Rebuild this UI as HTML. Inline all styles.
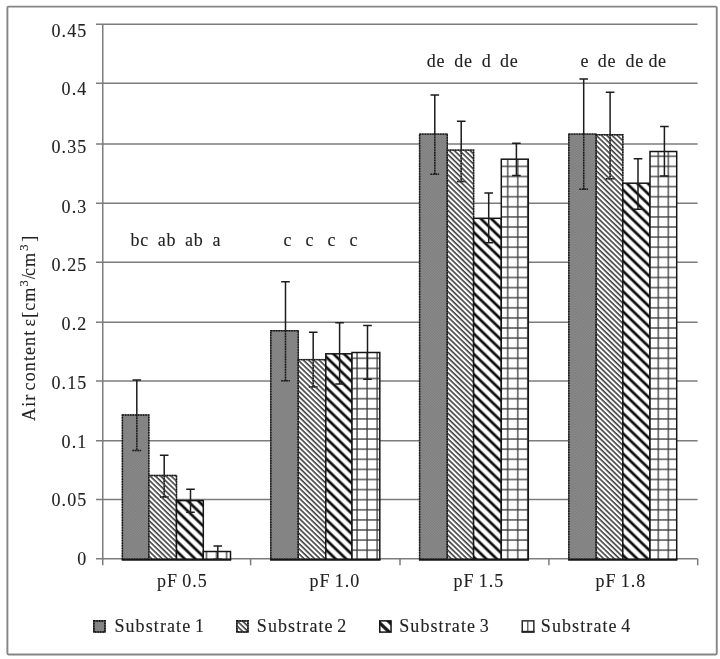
<!DOCTYPE html>
<html><head><meta charset="utf-8"><title>Air content chart</title>
<style>
html,body{margin:0;padding:0;background:#fff;}
body{width:720px;height:659px;overflow:hidden;}
svg{display:block;will-change:transform;filter:grayscale(1);}
text{font-family:"Liberation Serif",serif;font-size:18px;fill:#222;letter-spacing:0.7px;stroke:#222;stroke-width:0.12px;}
</style></head><body>
<svg width="720" height="659" viewBox="0 0 720 659">
<defs>
<pattern id="p1" patternUnits="userSpaceOnUse" width="2.56" height="2.56">
<rect width="2.56" height="2.56" fill="#909090"/>
<rect x="0" y="0" width="1.28" height="1.28" fill="#787878"/>
<rect x="1.28" y="1.28" width="1.28" height="1.28" fill="#787878"/>
</pattern>
<pattern id="p2" patternUnits="userSpaceOnUse" width="10" height="3.651" patternTransform="rotate(44.0)">
<rect width="10" height="3.651" fill="#fff"/>
<rect x="0" y="0" width="10" height="1.6" fill="#404040"/>
</pattern>
<pattern id="p3g0" patternUnits="userSpaceOnUse" width="10" height="7.301" patternTransform="translate(176.4,520.4) rotate(44.0)">
<rect width="10" height="7.301" fill="#fff"/>
<rect x="0" y="0" width="10" height="1.35" fill="#0c0c0c"/>
<rect x="0" y="5.951" width="10" height="1.36" fill="#0c0c0c"/>
</pattern>
<pattern id="p3g1" patternUnits="userSpaceOnUse" width="10" height="7.301" patternTransform="translate(326.1,519.3) rotate(44.0)">
<rect width="10" height="7.301" fill="#fff"/>
<rect x="0" y="0" width="10" height="1.35" fill="#0c0c0c"/>
<rect x="0" y="5.951" width="10" height="1.36" fill="#0c0c0c"/>
</pattern>
<pattern id="p3g2" patternUnits="userSpaceOnUse" width="10" height="7.301" patternTransform="translate(473.6,526.4) rotate(44.0)">
<rect width="10" height="7.301" fill="#fff"/>
<rect x="0" y="0" width="10" height="1.35" fill="#0c0c0c"/>
<rect x="0" y="5.951" width="10" height="1.36" fill="#0c0c0c"/>
</pattern>
<pattern id="p3g3" patternUnits="userSpaceOnUse" width="10" height="7.301" patternTransform="translate(623.1,524.9) rotate(44.0)">
<rect width="10" height="7.301" fill="#fff"/>
<rect x="0" y="0" width="10" height="1.35" fill="#0c0c0c"/>
<rect x="0" y="5.951" width="10" height="1.36" fill="#0c0c0c"/>
</pattern>
<pattern id="p3" patternUnits="userSpaceOnUse" width="10" height="7.301" patternTransform="translate(379.7,622.9) rotate(44.0)">
<rect width="10" height="7.301" fill="#fff"/>
<rect x="0" y="0" width="10" height="1.6" fill="#111"/>
<rect x="0" y="5.701" width="10" height="1.61" fill="#111"/>
</pattern>
<pattern id="p4" patternUnits="userSpaceOnUse" width="10.04" height="10.1" x="5.7" y="4.8">
<rect width="10.04" height="10.1" fill="#fff"/>
<rect x="-0.65" y="0" width="1.3" height="10.1" fill="#3a3a3a"/>
<rect x="9.39" y="0" width="1.3" height="10.1" fill="#3a3a3a"/>
<rect x="0" y="-0.65" width="10.04" height="1.3" fill="#3a3a3a"/>
<rect x="0" y="9.45" width="10.04" height="1.3" fill="#3a3a3a"/>
</pattern>
</defs>
<rect x="0" y="0" width="720" height="659" fill="#fff"/>
<rect x="7.4" y="6.65" width="709.35" height="647.85" rx="1.2" fill="none" stroke="#858585" stroke-width="1.9"/>

<line x1="96" y1="558.7" x2="697.6" y2="558.7" stroke="#7c7c7c" stroke-width="1.5"/>
<line x1="96" y1="499.6" x2="697.6" y2="499.6" stroke="#7c7c7c" stroke-width="1.5"/>
<line x1="96" y1="440.7" x2="697.6" y2="440.7" stroke="#7c7c7c" stroke-width="1.5"/>
<line x1="96" y1="381.0" x2="697.6" y2="381.0" stroke="#7c7c7c" stroke-width="1.5"/>
<line x1="96" y1="322.3" x2="697.6" y2="322.3" stroke="#7c7c7c" stroke-width="1.5"/>
<line x1="96" y1="262.2" x2="697.6" y2="262.2" stroke="#7c7c7c" stroke-width="1.5"/>
<line x1="96" y1="203.3" x2="697.6" y2="203.3" stroke="#7c7c7c" stroke-width="1.5"/>
<line x1="96" y1="144.0" x2="697.6" y2="144.0" stroke="#7c7c7c" stroke-width="1.5"/>
<line x1="96" y1="83.3" x2="697.6" y2="83.3" stroke="#7c7c7c" stroke-width="1.5"/>
<line x1="96" y1="24.2" x2="697.6" y2="24.2" stroke="#7c7c7c" stroke-width="1.5"/>
<line x1="102.75" y1="24.2" x2="102.75" y2="565.3" stroke="#7c7c7c" stroke-width="1.5"/>
<line x1="250.6" y1="558.7" x2="250.6" y2="565.3" stroke="#7c7c7c" stroke-width="1.5"/>
<line x1="400.0" y1="558.7" x2="400.0" y2="565.3" stroke="#7c7c7c" stroke-width="1.5"/>
<line x1="548.9" y1="558.7" x2="548.9" y2="565.3" stroke="#7c7c7c" stroke-width="1.5"/>
<line x1="697.7" y1="558.7" x2="697.7" y2="565.3" stroke="#7c7c7c" stroke-width="1.5"/>
<rect x="122.40" y="415" width="26.40" height="144.30" fill="url(#p1)" stroke="#4c4c4c" stroke-width="1.4"/>
<rect x="122.40" y="415" width="26.40" height="144.30" fill="none" stroke="#151515" stroke-width="1.4" stroke-dasharray="1.4 1.16"/>
<rect x="148.80" y="475.5" width="27.70" height="83.80" fill="url(#p2)" stroke="#4c4c4c" stroke-width="1.4"/>
<rect x="148.80" y="475.5" width="27.70" height="83.80" fill="none" stroke="#151515" stroke-width="1.4" stroke-dasharray="1.4 1.16"/>
<rect x="176.50" y="500.6" width="26.80" height="58.70" fill="url(#p3g0)" stroke="#151515" stroke-width="1.5"/>
<rect x="203.30" y="551.5" width="27.20" height="7.80" fill="url(#p4)" stroke="#151515" stroke-width="1.5"/>
<line x1="121.70" y1="559.75" x2="231.20" y2="559.75" stroke="#151515" stroke-width="1.9"/>
<rect x="270.80" y="330.7" width="27.50" height="228.60" fill="url(#p1)" stroke="#4c4c4c" stroke-width="1.4"/>
<rect x="270.80" y="330.7" width="27.50" height="228.60" fill="none" stroke="#151515" stroke-width="1.4" stroke-dasharray="1.4 1.16"/>
<rect x="298.30" y="359.6" width="27.50" height="199.70" fill="url(#p2)" stroke="#4c4c4c" stroke-width="1.4"/>
<rect x="298.30" y="359.6" width="27.50" height="199.70" fill="none" stroke="#151515" stroke-width="1.4" stroke-dasharray="1.4 1.16"/>
<rect x="325.80" y="353.8" width="26.20" height="205.50" fill="url(#p3g1)" stroke="#151515" stroke-width="1.5"/>
<rect x="352.00" y="352.5" width="27.80" height="206.80" fill="url(#p4)" stroke="#151515" stroke-width="1.5"/>
<line x1="270.10" y1="559.75" x2="380.50" y2="559.75" stroke="#151515" stroke-width="1.9"/>
<rect x="419.60" y="134.1" width="27.70" height="425.20" fill="url(#p1)" stroke="#4c4c4c" stroke-width="1.4"/>
<rect x="419.60" y="134.1" width="27.70" height="425.20" fill="none" stroke="#151515" stroke-width="1.4" stroke-dasharray="1.4 1.16"/>
<rect x="447.30" y="150.1" width="26.30" height="409.20" fill="url(#p2)" stroke="#4c4c4c" stroke-width="1.4"/>
<rect x="447.30" y="150.1" width="26.30" height="409.20" fill="none" stroke="#151515" stroke-width="1.4" stroke-dasharray="1.4 1.16"/>
<rect x="473.60" y="218.3" width="27.70" height="341.00" fill="url(#p3g2)" stroke="#151515" stroke-width="1.5"/>
<rect x="501.30" y="159.2" width="27.00" height="400.10" fill="url(#p4)" stroke="#151515" stroke-width="1.5"/>
<line x1="418.90" y1="559.75" x2="529.00" y2="559.75" stroke="#151515" stroke-width="1.9"/>
<rect x="568.80" y="134.1" width="27.40" height="425.20" fill="url(#p1)" stroke="#4c4c4c" stroke-width="1.4"/>
<rect x="568.80" y="134.1" width="27.40" height="425.20" fill="none" stroke="#151515" stroke-width="1.4" stroke-dasharray="1.4 1.16"/>
<rect x="596.20" y="134.7" width="26.60" height="424.60" fill="url(#p2)" stroke="#4c4c4c" stroke-width="1.4"/>
<rect x="596.20" y="134.7" width="26.60" height="424.60" fill="none" stroke="#151515" stroke-width="1.4" stroke-dasharray="1.4 1.16"/>
<rect x="622.80" y="183.2" width="27.20" height="376.10" fill="url(#p3g3)" stroke="#151515" stroke-width="1.5"/>
<rect x="650.00" y="151.5" width="26.70" height="407.80" fill="url(#p4)" stroke="#151515" stroke-width="1.5"/>
<line x1="568.10" y1="559.75" x2="677.40" y2="559.75" stroke="#151515" stroke-width="1.9"/>
<path d="M136.8 380V415M132.5 380H141.1" fill="none" stroke="#1c1c1c" stroke-width="1.5"/>
<path d="M136.8 415V450.5M132.5 450.5H141.1" fill="none" stroke="#555" stroke-width="1.5"/>
<path d="M136.8 415V450.5M132.5 450.5H141.1" fill="none" stroke="#151515" stroke-width="1.4" stroke-dasharray="1.4 1.16"/>
<path d="M164.2 455.3V475.5M159.9 455.3H168.5" fill="none" stroke="#1c1c1c" stroke-width="1.5"/>
<path d="M164.2 475.5V497M159.9 497H168.5" fill="none" stroke="#555" stroke-width="1.5"/>
<path d="M164.2 475.5V497M159.9 497H168.5" fill="none" stroke="#151515" stroke-width="1.4" stroke-dasharray="1.4 1.16"/>
<path d="M190.5 489.2V512.3M186.2 489.2H194.8M186.2 512.3H194.8" fill="none" stroke="#1c1c1c" stroke-width="1.5"/>
<path d="M217.8 546V559.2M213.5 546H222.1M213.5 559.2H222.1" fill="none" stroke="#1c1c1c" stroke-width="1.5"/>
<path d="M285.5 281.8V330.7M281.2 281.8H289.8" fill="none" stroke="#1c1c1c" stroke-width="1.5"/>
<path d="M285.5 330.7V380.7M281.2 380.7H289.8" fill="none" stroke="#555" stroke-width="1.5"/>
<path d="M285.5 330.7V380.7M281.2 380.7H289.8" fill="none" stroke="#151515" stroke-width="1.4" stroke-dasharray="1.4 1.16"/>
<path d="M313.2 332.3V359.6M308.9 332.3H317.5" fill="none" stroke="#1c1c1c" stroke-width="1.5"/>
<path d="M313.2 359.6V386.9M308.9 386.9H317.5" fill="none" stroke="#555" stroke-width="1.5"/>
<path d="M313.2 359.6V386.9M308.9 386.9H317.5" fill="none" stroke="#151515" stroke-width="1.4" stroke-dasharray="1.4 1.16"/>
<path d="M339.6 322.8V384M335.3 322.8H343.9M335.3 384H343.9" fill="none" stroke="#1c1c1c" stroke-width="1.5"/>
<path d="M367.5 325.6V379.3M363.2 325.6H371.8M363.2 379.3H371.8" fill="none" stroke="#1c1c1c" stroke-width="1.5"/>
<path d="M434.8 94.9V134.1M430.5 94.9H439.1" fill="none" stroke="#1c1c1c" stroke-width="1.5"/>
<path d="M434.8 134.1V174.2M430.5 174.2H439.1" fill="none" stroke="#555" stroke-width="1.5"/>
<path d="M434.8 134.1V174.2M430.5 174.2H439.1" fill="none" stroke="#151515" stroke-width="1.4" stroke-dasharray="1.4 1.16"/>
<path d="M461.2 121.3V150.1M456.9 121.3H465.5" fill="none" stroke="#1c1c1c" stroke-width="1.5"/>
<path d="M461.2 150.1V181.6M456.9 181.6H465.5" fill="none" stroke="#555" stroke-width="1.5"/>
<path d="M461.2 150.1V181.6M456.9 181.6H465.5" fill="none" stroke="#151515" stroke-width="1.4" stroke-dasharray="1.4 1.16"/>
<path d="M488.7 193V242.8M484.4 193H493.0M484.4 242.8H493.0" fill="none" stroke="#1c1c1c" stroke-width="1.5"/>
<path d="M516.4 143.2V175.6M512.1 143.2H520.7M512.1 175.6H520.7" fill="none" stroke="#1c1c1c" stroke-width="1.5"/>
<path d="M583.7 79.1V134.1M579.4 79.1H588.0" fill="none" stroke="#1c1c1c" stroke-width="1.5"/>
<path d="M583.7 134.1V189.2M579.4 189.2H588.0" fill="none" stroke="#555" stroke-width="1.5"/>
<path d="M583.7 134.1V189.2M579.4 189.2H588.0" fill="none" stroke="#151515" stroke-width="1.4" stroke-dasharray="1.4 1.16"/>
<path d="M610.1 92.2V134.7M605.8 92.2H614.4" fill="none" stroke="#1c1c1c" stroke-width="1.5"/>
<path d="M610.1 134.7V178.8M605.8 178.8H614.4" fill="none" stroke="#555" stroke-width="1.5"/>
<path d="M610.1 134.7V178.8M605.8 178.8H614.4" fill="none" stroke="#151515" stroke-width="1.4" stroke-dasharray="1.4 1.16"/>
<path d="M638 158.8V209.2M633.7 158.8H642.3M633.7 209.2H642.3" fill="none" stroke="#1c1c1c" stroke-width="1.5"/>
<path d="M664.4 126.5V175.9M660.1 126.5H668.7M660.1 175.9H668.7" fill="none" stroke="#1c1c1c" stroke-width="1.5"/>
<g id="txt">
<text x="87.5" y="565.0" text-anchor="end" style="letter-spacing:1.15px">0</text>
<text x="87.5" y="506.2" text-anchor="end" style="letter-spacing:1.15px">0.05</text>
<text x="87.5" y="447.5" text-anchor="end" style="letter-spacing:1.15px">0.1</text>
<text x="87.5" y="388.6" text-anchor="end" style="letter-spacing:1.15px">0.15</text>
<text x="87.5" y="330.0" text-anchor="end" style="letter-spacing:1.15px">0.2</text>
<text x="87.5" y="271.0" text-anchor="end" style="letter-spacing:1.15px">0.25</text>
<text x="87.5" y="212.5" text-anchor="end" style="letter-spacing:1.15px">0.3</text>
<text x="87.5" y="153.3" text-anchor="end" style="letter-spacing:1.15px">0.35</text>
<text x="87.5" y="95.0" text-anchor="end" style="letter-spacing:1.15px">0.4</text>
<text x="87.5" y="36.5" text-anchor="end" style="letter-spacing:1.15px">0.45</text>
<text x="130.5" y="246.2" >bc</text>
<text x="157.7" y="246.2" >ab</text>
<text x="185" y="246.2" >ab</text>
<text x="212.5" y="246.2" >a</text>
<text x="283.4" y="246.2" >c</text>
<text x="305.5" y="246.2" >c</text>
<text x="327.5" y="246.2" >c</text>
<text x="349.4" y="246.2" >c</text>
<text x="426.7" y="67.4" >de</text>
<text x="454.2" y="67.4" >de</text>
<text x="481.7" y="67.4" >d</text>
<text x="500" y="67.4" >de</text>
<text x="580.5" y="67.4" >e</text>
<text x="597.7" y="67.4" >de</text>
<text x="625.5" y="67.4" >de</text>
<text x="648.4" y="67.4" >de</text>
<text x="157.0" y="586.7" style="letter-spacing:1.0px;word-spacing:-1.2px">pF 0.5</text>
<text x="309.5" y="586.7" style="letter-spacing:1.0px;word-spacing:-1.2px">pF 1.0</text>
<text x="453.5" y="586.7" style="letter-spacing:1.0px;word-spacing:-1.2px">pF 1.5</text>
<text x="595.5" y="586.7" style="letter-spacing:1.0px;word-spacing:-1.2px">pF 1.8</text>
<rect x="93.85" y="620.95" width="11.10" height="11.05" fill="url(#p1)" stroke="#444" stroke-width="1.7"/>
<rect x="93.85" y="620.95" width="11.10" height="11.05" fill="none" stroke="#151515" stroke-width="1.7" stroke-dasharray="1.4 1.16"/>
<text x="114.4" y="631.7" style="letter-spacing:1.1px;word-spacing:-2px">Substrate 1</text>
<rect x="236.85" y="620.95" width="11.10" height="11.05" fill="url(#p2)" stroke="#444" stroke-width="1.7"/>
<rect x="236.85" y="620.95" width="11.10" height="11.05" fill="none" stroke="#151515" stroke-width="1.7" stroke-dasharray="1.4 1.16"/>
<text x="256.8" y="631.7" style="letter-spacing:1.1px;word-spacing:-2px">Substrate 2</text>
<rect x="379.75" y="620.85" width="11.30" height="11.25" fill="url(#p3)" stroke="#151515" stroke-width="1.5"/>
<text x="399.2" y="631.7" style="letter-spacing:1.1px;word-spacing:-2px">Substrate 3</text>
<rect x="522.25" y="620.85" width="11.60" height="11.25" fill="#fff" stroke="#2a2a2a" stroke-width="1.5"/>
<path d="M527.8 620.5V632.5" stroke="#444" stroke-width="1.2" fill="none"/>
<path d="M521.6 631.6H534.5" stroke="#222" stroke-width="1.6" fill="none"/>
<text x="540.8" y="631.7" style="letter-spacing:1.1px;word-spacing:-2px">Substrate 4</text>
<text transform="translate(34.8,420.9) rotate(-90)" x="0" y="0" style="letter-spacing:1.1px;word-spacing:-2.4px">Air content ε[cm<tspan dy="-6.8" font-size="12.5px">3</tspan><tspan dy="6.8">/</tspan><tspan dx="-3">cm</tspan><tspan dy="-6.8" dx="1.2" font-size="12.5px">3</tspan><tspan dy="6.8" dx="1.6">]</tspan></text>
</g>
</svg></body></html>
